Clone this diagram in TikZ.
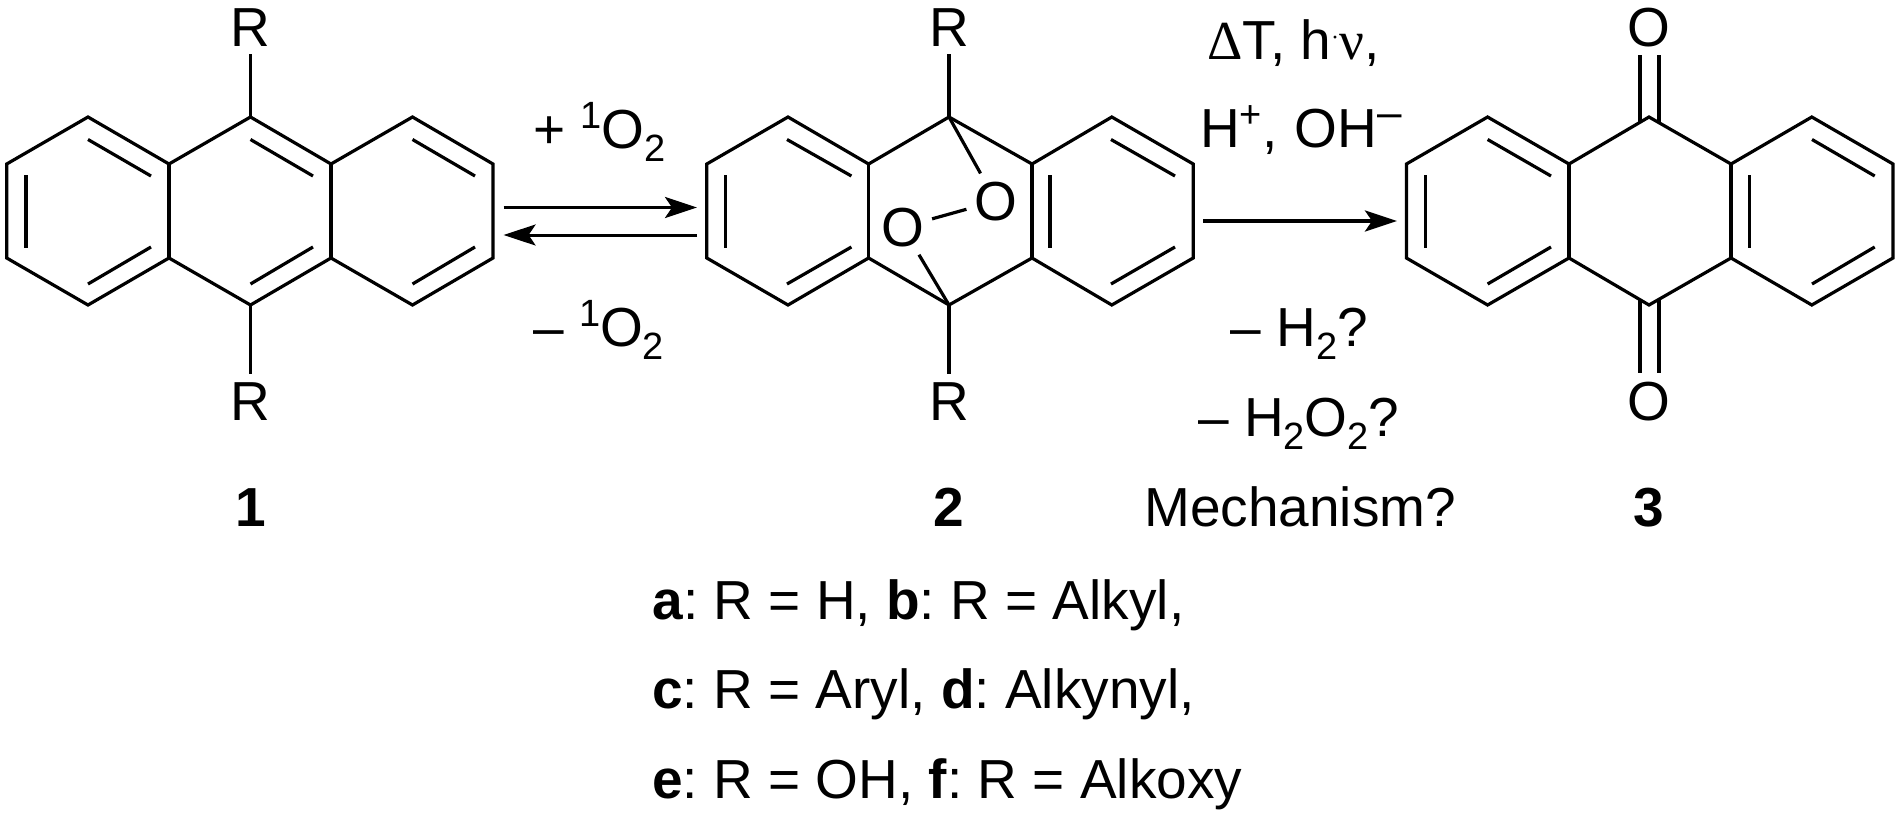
\documentclass[tikz,border=0pt]{standalone}
\usepackage{fontspec}
\setmainfont{Liberation Sans}
\newfontfamily\symbfont{Liberation Serif}
\usetikzlibrary{arrows.meta}
\frenchspacing
\newcommand{\subs}[1]{\raisebox{-13pt}{\fontsize{38}{38}\selectfont #1}}
\newcommand{\sups}[1]{\raisebox{20pt}{\fontsize{38}{38}\selectfont #1}}

\begin{document}
\begin{tikzpicture}[
        x=1pt, y=-1pt,
        bond/.style={line width=3.2pt, black, line join=miter},
        react/.style={line width=3pt, black, -{Stealth[length=32pt, width=21pt, inset=7pt]}},
        atom/.style={font=\fontsize{55}{60}\selectfont, anchor=base, inner sep=8pt},
        lbl/.style={font=\fontsize{55}{60}\selectfont, anchor=base west, inner sep=0pt},
        num/.style={font=\fontsize{55}{60}\selectfont\bfseries, anchor=base, inner sep=0pt},
    ]
    \useasboundingbox (0,0) rectangle (1900,814);

    % Compound 1
    \coordinate (a1) at (88,117); \coordinate (a2) at (169,164); \coordinate (a3) at (169,258);
    \coordinate (a4) at (88,305); \coordinate (a5) at (6.7,258); \coordinate (a6) at (6.7,164);
    \coordinate (a7) at (250.5,117); \coordinate (a8) at (331,164); \coordinate (a9) at (331,258);
    \coordinate (a10) at (250.5,305); \coordinate (a11) at (412.5,117); \coordinate (a12) at (493,164);
    \coordinate (a13) at (493,258); \coordinate (a14) at (412.5,305);
    \draw[bond] (a1) -- (a2) -- (a7) -- (a8) -- (a11) -- (a12) -- (a13) -- (a14) -- (a9) -- (a10) -- (a3) -- (a4) -- (a5) -- (a6) -- cycle;
    \draw[bond] (a2) -- (a3); \draw[bond] (a8) -- (a9);
    \draw[bond] (26,175) -- (26,248);
    \draw[bond] (88,139.5) -- (151,176); \draw[bond] (88,284) -- (151,247);
    \draw[bond] (250.5,139.5) -- (313,176); \draw[bond] (250.5,284) -- (313,247);
    \draw[bond] (412.5,139.5) -- (475,176); \draw[bond] (412.5,284) -- (475,247);
    \node[atom] (ra1) at (250.5,46) {R}; \node[atom] (ra2) at (250.5,420) {R};
    \draw[bond] (ra1) -- (a7); \draw[bond] (ra2) -- (a10);

    % Compound 2
    \coordinate (b1) at (788,117); \coordinate (b2) at (868.6,164); \coordinate (b3) at (868.6,258);
    \coordinate (b4) at (788,305); \coordinate (b5) at (706.8,258); \coordinate (b6) at (706.8,164);
    \coordinate (b7) at (949,117); \coordinate (b8) at (1032,164); \coordinate (b9) at (1032,258);
    \coordinate (b10) at (949,305); \coordinate (b11) at (1111.8,117); \coordinate (b12) at (1193.2,164);
    \coordinate (b13) at (1193.2,258); \coordinate (b14) at (1111.8,305);
    \draw[bond] (b1) -- (b2) -- (b7) -- (b8) -- (b11) -- (b12) -- (b13) -- (b14) -- (b9) -- (b10) -- (b3) -- (b4) -- (b5) -- (b6) -- cycle;
    \draw[bond] (b2) -- (b3); \draw[bond] (b8) -- (b9);
    \draw[bond] (725.4,175) -- (725.4,248); \draw[bond] (1050,175) -- (1050,248);
    \draw[bond] (787,139.5) -- (851.4,176); \draw[bond] (787,284) -- (851.4,247);
    \draw[bond] (1111,139.5) -- (1175,176); \draw[bond] (1111,284) -- (1175,247);
    \node[atom] (rb1) at (949,46) {R}; \node[atom] (rb2) at (949,420) {R};
    \draw[bond] (rb1) -- (b7); \draw[bond] (rb2) -- (b10);
    \node[atom] (ox1) at (996,220) {O}; \node[atom] (ox2) at (902.5,246) {O};
    \draw[bond] (ox1) -- (ox2); \draw[bond] (ox1) -- (b7); \draw[bond] (ox2) -- (b10);

    % Compound 3
    \coordinate (c1) at (1487.6,117); \coordinate (c2) at (1569,164); \coordinate (c3) at (1569,258);
    \coordinate (c4) at (1487.6,305); \coordinate (c5) at (1406.4,258); \coordinate (c6) at (1406.4,164);
    \coordinate (c7) at (1649,117); \coordinate (c8) at (1731,164); \coordinate (c9) at (1731,258);
    \coordinate (c10) at (1649,305); \coordinate (c11) at (1811.8,117); \coordinate (c12) at (1893,164);
    \coordinate (c13) at (1893,258); \coordinate (c14) at (1811.8,305);
    \draw[bond] (c1) -- (c2) -- (c7) -- (c8) -- (c11) -- (c12) -- (c13) -- (c14) -- (c9) -- (c10) -- (c3) -- (c4) -- (c5) -- (c6) -- cycle;
    \draw[bond] (c2) -- (c3); \draw[bond] (c8) -- (c9);
    \draw[bond] (1425.6,175) -- (1425.6,248); \draw[bond] (1749.8,175) -- (1749.8,248);
    \draw[bond] (1487.6,139.5) -- (1551,176); \draw[bond] (1487.6,284) -- (1551,247);
    \draw[bond] (1812,139.5) -- (1874.7,176); \draw[bond] (1812,284) -- (1874.7,247);
    \node[atom] (oc1) at (1649,46) {O}; \node[atom] (oc2) at (1649,420) {O};
    \draw[bond] (1640,55) -- (1640,122); \draw[bond] (1659,55) -- (1659,122);
    \draw[bond] (1640,300) -- (1640,373); \draw[bond] (1659,300) -- (1659,373);

    % Reaction arrows
    \coordinate (fwa) at (503.6,207.5); \coordinate (fwb) at (697,207.5);
    \coordinate (bka) at (697,235); \coordinate (bkb) at (503.6,235);
    \coordinate (maa) at (1203,221); \coordinate (mab) at (1397,221);
    \draw[react] (fwa) -- (fwb); \draw[react] (bka) -- (bkb); \draw[react, line width=4pt] (maa) -- (mab);

    % Arrow labels
    \node[lbl] (plus) at (533,148) {+ \sups{1}O\subs{2}};
    \node[lbl] (minus) at (533,346) {– \sups{1}O\subs{2}};
    \node[lbl] (cond) at (1207,59) {{\symbfont Δ}T, h\raisebox{14pt}{\fontsize{24}{24}\selectfont\symbfont ·}{\symbfont ν},};
    \node[lbl] (ions) at (1200,147.5) {H\sups{+}, \kern2pt OH\raisebox{20pt}{\fontsize{44}{44}\selectfont –}};
    \node[lbl] (loss) at (1230.5,346.5) {– H\subs{2}?};
    \node[lbl] (perox) at (1198,436) {– H\subs{2}O\subs{2}?};
    \node[lbl] (mech) at (1144,526) {Mechanism?};

    % Compound numbers
    \node[num] (n1) at (250.5,526) {1}; \node[num] (n2) at (949,526) {2}; \node[num] (n3) at (1649,526) {3};

    % Substituents
    \node[lbl] (suba) at (652,619) {\textbf{a}: R = H, \textbf{b}: R = Alkyl,};
    \node[lbl] (subc) at (652,708) {\textbf{c}: R = Aryl, \textbf{d}: Alkynyl,};
    \node[lbl] (sube) at (652,798) {\textbf{e}: R = OH, \textbf{f}: R = Alkoxy};
\end{tikzpicture}
\end{document}
